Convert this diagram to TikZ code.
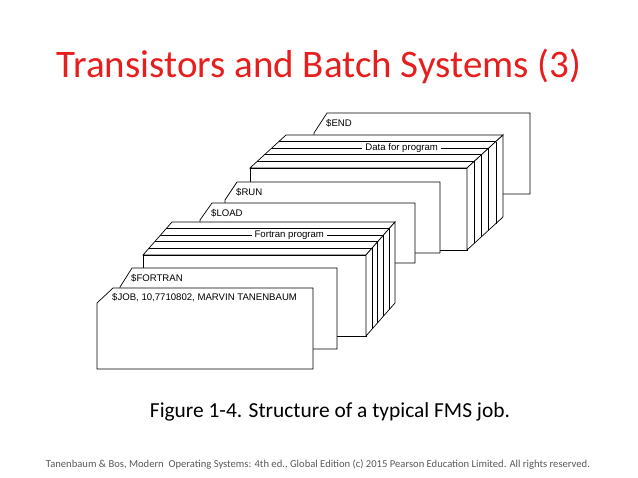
\documentclass[tikz,border=0pt]{standalone}
\usepackage{fontspec}
\setmainfont{Carlito}
\newfontfamily\cardfont{Liberation Sans}
\usetikzlibrary{calc}
\definecolor{titlered}{RGB}{230,30,30}
\tikzset{cardline/.style={draw=black,line width=0.7pt,fill=white,line join=miter},
 cardtext/.style={font=\cardfont\fontsize{9.6}{11}\selectfont,anchor=west,inner sep=1pt}}
% card: left, top, right, bottom, cutx, cuty, text
\newcommand\mycard[7]{%
 \path[cardline] (#1,#2+#6) -- (#1+#5,#2) -- (#3,#2) -- (#3,#4) -- (#1,#4) -- cycle;
 \node[cardtext] at (#1+#5-2,#2+10) {#7};}
% deck: fx1 fy1 fx2 fy2 dx dy text
\newcommand\mydeck[7]{%
 \path[cardline] (#1,#2) rectangle (#3,#4);
 \path[cardline] (#1,#2) -- (#1+#5,#2+#6) -- (#3+#5,#2+#6) -- (#3,#2) -- cycle;
 \path[cardline] (#3,#2) -- (#3+#5,#2+#6) -- (#3+#5,#4+#6) -- (#3,#4) -- cycle;
 \foreach \k in {0.2,0.4,0.6,0.8}{
  \draw[line width=0.6pt] (#1+\k*#5,#2+\k*#6) -- (#3+\k*#5,#2+\k*#6);
  \draw[line width=0.6pt] (#3+\k*#5,#2+\k*#6) -- (#3+\k*#5,#4+\k*#6);}
 \node[cardtext,anchor=center,fill=white,inner xsep=3pt] at ($(#1,#2)!0.5!(#3,#2)+0.6*(#5,#6)+(0.6*#5,0)$) {#7};}
\begin{document}
\begin{tikzpicture}[x=1pt,y=-1pt]
\useasboundingbox (0,0) rectangle (638,478);
\node[text=titlered,font=\fontsize{39}{44}\selectfont] (title) at (319,66) {Transistors and Batch Systems (3)};
\mycard{314}{113}{530}{194}{13}{20}{\$END}
\mydeck{250}{168}{467}{250}{36}{-33}{Data for program}
\mycard{225}{182}{440}{253}{12}{18}{\$RUN}
\mycard{200}{203}{415}{263}{12}{17}{\$LOAD}
\mydeck{143}{255}{366}{336}{29}{-33}{Fortran program}
\mycard{120}{268}{337}{349}{12}{19}{\$FORTRAN}
\mycard{97}{288}{313}{369}{16}{15}{\$JOB, 10,7710802, MARVIN TANENBAUM}
\node[font=\fontsize{21.4}{25}\selectfont] (cap) at (330,412) {Figure 1-4. Structure of a typical FMS job.};
\node[font=\fontsize{10.6}{12}\selectfont,text=black!65] (foot) at (318,465) {Tanenbaum \& Bos, Modern\ \ Operating Systems: 4th ed., Global Edition (c) 2015 Pearson Education Limited. All rights reserved.};
\end{tikzpicture}
\end{document}
